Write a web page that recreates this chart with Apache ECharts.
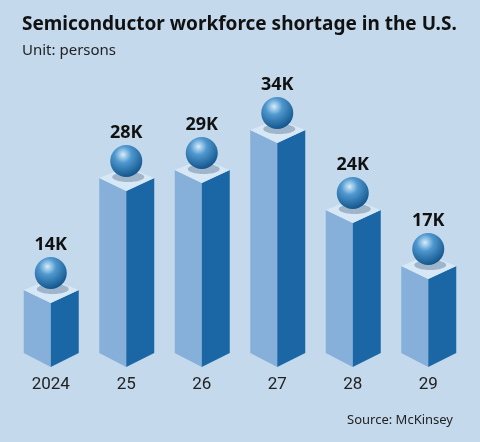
<!DOCTYPE html><html><head><meta charset="utf-8">
<script src="https://cdn.jsdelivr.net/npm/echarts@6/dist/echarts.min.js"></script>
<style>html,body{margin:0;padding:0;background:#c4d9ec}#c{width:480px;height:442px}</style></head><body><div id="c"></div>
<script>
const categories=['2024','25','26','27','28','29'];
const values=[14,28,29,34,24,17];
const labels=['14K','28K','29K','34K','24K','17K'];
const chart=echarts.init(document.getElementById('c'));
chart.setOption({
 backgroundColor:'#c4d9ec',
 title:[{text:'Semiconductor workforce shortage in the U.S.',left:17,top:10,textStyle:{fontFamily:'Noto Sans',fontSize:19,fontWeight:'bold',color:'#111'}},
  {text:'Unit: persons',left:17,top:38,textStyle:{fontFamily:'Noto Sans',fontSize:15,fontWeight:'normal',color:'#222'}},
  {text:'Source: McKinsey',right:22,top:409,textStyle:{fontFamily:'Noto Sans',fontSize:13,fontWeight:'normal',color:'#222'}}],
 grid:{left:13,right:14,top:15,bottom:75},
 xAxis:{type:'category',data:categories,axisLine:{show:false},axisTick:{show:false},axisLabel:{margin:9,fontSize:17,color:'#222',fontFamily:'Liberation Sans Narrow, Roboto'}},
 yAxis:{type:'value',min:6,max:50,show:false},
 series:[{type:'custom',data:values.map((v,i)=>[i,v]),
  renderItem:function(params,api){
   const i=api.value(0),v=api.value(1);
   const p=api.coord([i,v]),b=api.coord([i,6]);
   const cx=p[0],y=p[1],by=b[1];
   return {type:'group',children:[
    {type:'polygon',shape:{points:[[cx-27,y-13],[cx,y],[cx,by],[cx-27,by-14]]},style:{fill:'#86b0da'}},
    {type:'polygon',shape:{points:[[cx,y],[cx+28,y-13],[cx+28,by-14],[cx,by]]},style:{fill:'#1b67a6'}},
    {type:'polygon',shape:{points:[[cx-27,y-13],[cx,y],[cx+28,y-13],[cx,y-24]]},style:{fill:'#d6e7f5'}},
    {type:'ellipse',shape:{cx:cx+2,cy:y-14,rx:16,ry:5},style:{fill:'rgba(60,90,120,0.35)'}},
    {type:'circle',shape:{cx:cx,cy:y-30,r:16},style:{fill:new echarts.graphic.RadialGradient(0.4,0.3,0.75,[{offset:0,color:'#d6ecfb'},{offset:0.35,color:'#4f98cf'},{offset:1,color:'#0d4f86'}])}},
    {type:'text',style:{text:labels[i],x:cx,y:y-58,textAlign:'center',textVerticalAlign:'middle',fontSize:18,fontWeight:'bold',fill:'#111',fontFamily:'Noto Sans'}}
   ]};
  }}]
});
</script></body></html>
